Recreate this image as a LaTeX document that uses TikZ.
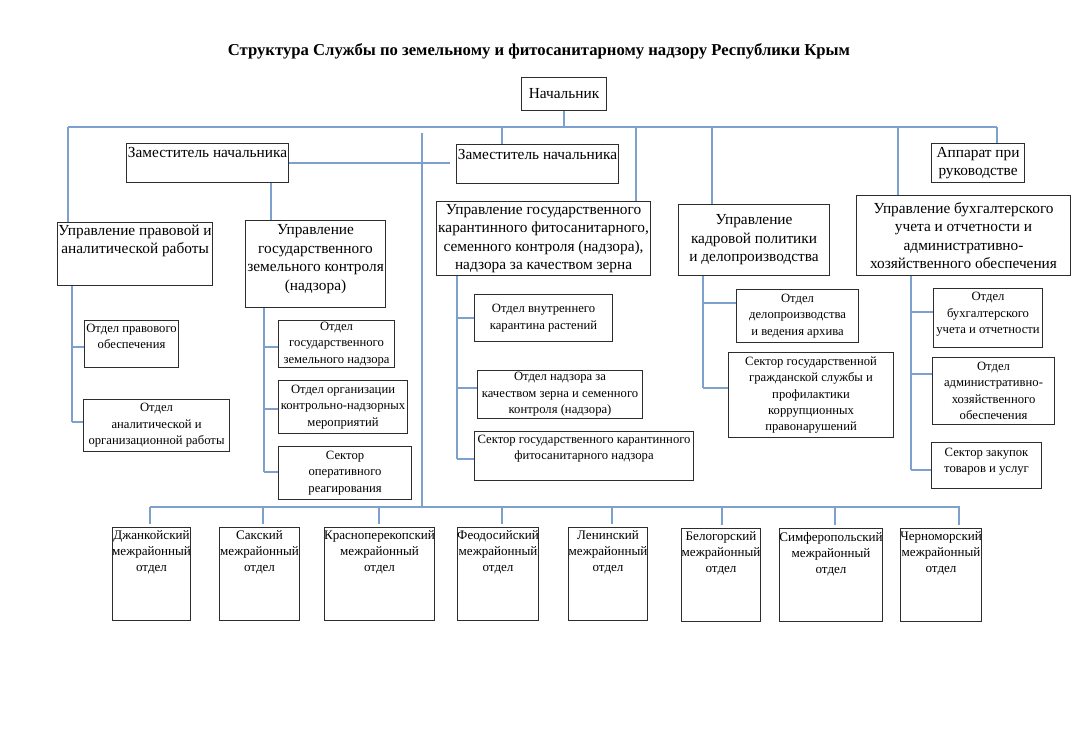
\documentclass[tikz,border=0pt]{standalone}
\usepackage{fontspec}
\setmainfont{Liberation Serif}
\usetikzlibrary{calc}
\definecolor{lnblue}{RGB}{125,160,205}
\definecolor{bxline}{RGB}{45,45,45}
% #1 style, #2 name, #3 x1, #4 y1, #5 x2, #6 y2, #7 text (centred)
\newcommand\BoxC[7]{%
  \node[bx, minimum width={(#5-#3)*0.75pt}, minimum height={(#6-#4)*0.75pt}, anchor=north west] (#2) at (#3,#4) {};
  \node[tx, #1] (#2t) at (#2.center) {#7};
}
% #1 style, #2 name, #3 x1, #4 y1, #5 x2, #6 y2, #7 top pad, #8 text (top)
\newcommand\BoxT[8]{%
  \node[bx, minimum width={(#5-#3)*0.75pt}, minimum height={(#6-#4)*0.75pt}, anchor=north west] (#2) at (#3,#4) {};
  \node[tx, #1, anchor=north] (#2t) at ([yshift={-#7*0.75pt}]#2.north) {#8};
}
\begin{document}
\begin{tikzpicture}[x=0.75pt,y=-0.75pt,
  bx/.style={draw=bxline, line width=0.8pt, inner sep=0pt, fill=white},
  tx/.style={align=center, inner sep=0.5pt, text=black},
  big/.style={font=\fontsize{11.5}{13.9}\selectfont},
  sml/.style={font=\fontsize{9.5}{12.3}\selectfont},
  bot/.style={font=\fontsize{9.8}{12}\selectfont},
  ln/.style={draw=lnblue, line width=1.1pt}]
\useasboundingbox[fill=white] (0,0) rectangle (1080,749);

\node[font=\bfseries\fontsize{12.5}{15}\selectfont] (title) at (539,51) {Структура Службы по земельному и фитосанитарному надзору Республики Крым};

% top level
\BoxC{big}{nach}{521}{77}{606}{110}{Начальник}
\BoxT{big}{zam1}{126}{143}{288}{182}{3}{Заместитель начальника}
\BoxT{big}{zam2}{456}{144}{618}{183}{4}{Заместитель начальника}
\BoxC{big}{app}{931}{143}{1024}{182}{Аппарат при\\руководстве}

% second level
\BoxT{big}{upr}{57}{222}{212}{285}{2}{Управление правовой и\\аналитической работы}
\BoxT{big}{zem}{245}{220}{385}{307}{3.5}{Управление\\государственного\\земельного контроля\\(надзора)}
\BoxC{big}{kar}{436}{201}{650}{275}{Управление государственного\\карантинного фитосанитарного,\\семенного контроля (надзора),\\надзора за качеством зерна}
\BoxC{big}{kad}{678}{204}{829}{275}{Управление\\кадровой политики\\и делопроизводства}
\BoxC{big}{buh}{856}{195}{1070}{275}{Управление бухгалтерского\\учета и отчетности и\\административно-\\хозяйственного обеспечения}

% third level
\BoxT{sml}{op}{84}{320}{178}{367}{3}{Отдел правового\\обеспечения}
\BoxC{sml}{oa}{83}{399}{229}{451}{Отдел\\аналитической и\\организационной работы}
\BoxC{sml}{ozn}{278}{320}{394}{367}{Отдел\\государственного\\земельного надзора}
\BoxC{sml}{okn}{278}{380}{407}{433}{Отдел организации\\контрольно-надзорных\\мероприятий}
\BoxC{sml}{sor}{278}{446}{411}{499}{Сектор\\оперативного\\реагирования}
\BoxC{sml}{ovk}{474}{294}{612}{341}{Отдел внутреннего\\карантина растений}
\BoxC{sml}{onk}{477}{370}{642}{418}{Отдел надзора за\\качеством зерна и семенного\\контроля (надзора)}
\BoxT{sml}{skn}{474}{431}{693}{480}{3}{Сектор государственного карантинного\\фитосанитарного надзора}
\BoxC{sml}{odv}{736}{289}{858}{342}{Отдел\\делопроизводства\\и ведения архива}
\BoxC{sml}{sgs}{728}{352}{893}{437}{Сектор государственной\\гражданской службы и\\профилактики\\коррупционных\\правонарушений}
\BoxT{sml}{obu}{933}{288}{1042}{347}{3.5}{Отдел\\бухгалтерского\\учета и отчетности}
\BoxC{sml}{oah}{932}{357}{1054}{424}{Отдел\\административно-\\хозяйственного\\обеспечения}
\BoxT{sml}{szt}{931}{442}{1041}{488}{5}{Сектор закупок\\товаров и услуг}

% bottom row
\BoxT{bot}{b1}{112}{527}{190}{620}{3}{Джанкойский\\межрайонный\\отдел}
\BoxT{bot}{b2}{219}{527}{299}{620}{3}{Сакский\\межрайонный\\отдел}
\BoxT{bot}{b3}{324}{527}{434}{620}{3}{Красноперекопский\\межрайонный\\отдел}
\BoxT{bot}{b4}{457}{527}{538}{620}{3}{Феодосийский\\межрайонный\\отдел}
\BoxT{bot}{b5}{568}{527}{647}{620}{3}{Ленинский\\межрайонный\\отдел}
\BoxT{bot}{b6}{681}{528}{760}{621}{3}{Белогорский\\межрайонный\\отдел}
\BoxT{bot}{b7}{779}{528}{882}{621}{3}{Симферопольский\\межрайонный\\отдел}
\BoxT{bot}{b8}{900}{528}{981}{621}{3}{Черноморский\\межрайонный\\отдел}

% main bus
\coordinate (mL) at (68,127);
\coordinate (mR) at (997,127);
\draw[ln] (mL) -- (mR);
\draw[ln] (nach.south) -- (nach.south |- mL);
\draw[ln] (mL) -- (mL |- upr.north);
\coordinate (m2) at (502,127); \draw[ln] (m2) -- (m2 |- zam2.north);
\coordinate (m3) at (636,127); \draw[ln] (m3) -- (m3 |- kar.north);
\coordinate (m4) at (712,127); \draw[ln] (m4) -- (m4 |- kad.north);
\coordinate (m5) at (898,127); \draw[ln] (m5) -- (m5 |- buh.north);
\draw[ln] (mR) -- (mR |- app.north);

% deputy links
\draw[ln, shorten >=4.5pt] (zam1.east) -- (zam1.east -| zam2.west);
\coordinate (z1) at (271,182);
\draw[ln] (z1 |- zam1.south) -- (z1 |- zem.north);

% long vertical and bottom bus
\coordinate (vT) at (422,133);
\coordinate (vB) at (422,507);
\draw[ln] (vT) -- (vB);
\coordinate (bL) at (150,507);
\coordinate (bR) at (960,507);
\draw[ln] (bL) -- (bR);
\foreach \xx/\nn in {150/b1,263/b2,379/b3,502/b4,612/b5,722/b6,835/b7,959/b8}{
  \coordinate (d\nn) at (\xx,507);
  \draw[ln, shorten >=2pt] (d\nn) -- (d\nn |- \nn.north);
}

% left trunk
\coordinate (t1a) at (72,347); \coordinate (t1b) at (72,422);
\draw[ln] (t1b |- upr.south) -- (t1b);
\draw[ln] (t1a) -- (t1a -| op.west);
\draw[ln] (t1b) -- (t1b -| oa.west);

% land control trunk
\coordinate (t2a) at (264,347); \coordinate (t2b) at (264,409); \coordinate (t2c) at (264,472);
\draw[ln] (t2c |- zem.south) -- (t2c);
\draw[ln] (t2a) -- (t2a -| ozn.west);
\draw[ln] (t2b) -- (t2b -| okn.west);
\draw[ln] (t2c) -- (t2c -| sor.west);

% quarantine trunk
\coordinate (t3a) at (457,318); \coordinate (t3b) at (457,388); \coordinate (t3c) at (457,459);
\draw[ln] (t3c |- kar.south) -- (t3c);
\draw[ln] (t3a) -- (t3a -| ovk.west);
\draw[ln] (t3b) -- (t3b -| onk.west);
\draw[ln] (t3c) -- (t3c -| skn.west);

% personnel trunk
\coordinate (t4a) at (703,303); \coordinate (t4b) at (703,388);
\draw[ln] (t4b |- kad.south) -- (t4b);
\draw[ln] (t4a) -- (t4a -| odv.west);
\draw[ln] (t4b) -- (t4b -| sgs.west);

% accounting trunk
\coordinate (t5a) at (911,312); \coordinate (t5b) at (911,374); \coordinate (t5c) at (911,470);
\draw[ln] (t5c |- buh.south) -- (t5c);
\draw[ln] (t5a) -- (t5a -| obu.west);
\draw[ln] (t5b) -- (t5b -| oah.west);
\draw[ln] (t5c) -- (t5c -| szt.west);
\end{tikzpicture}
\end{document}
